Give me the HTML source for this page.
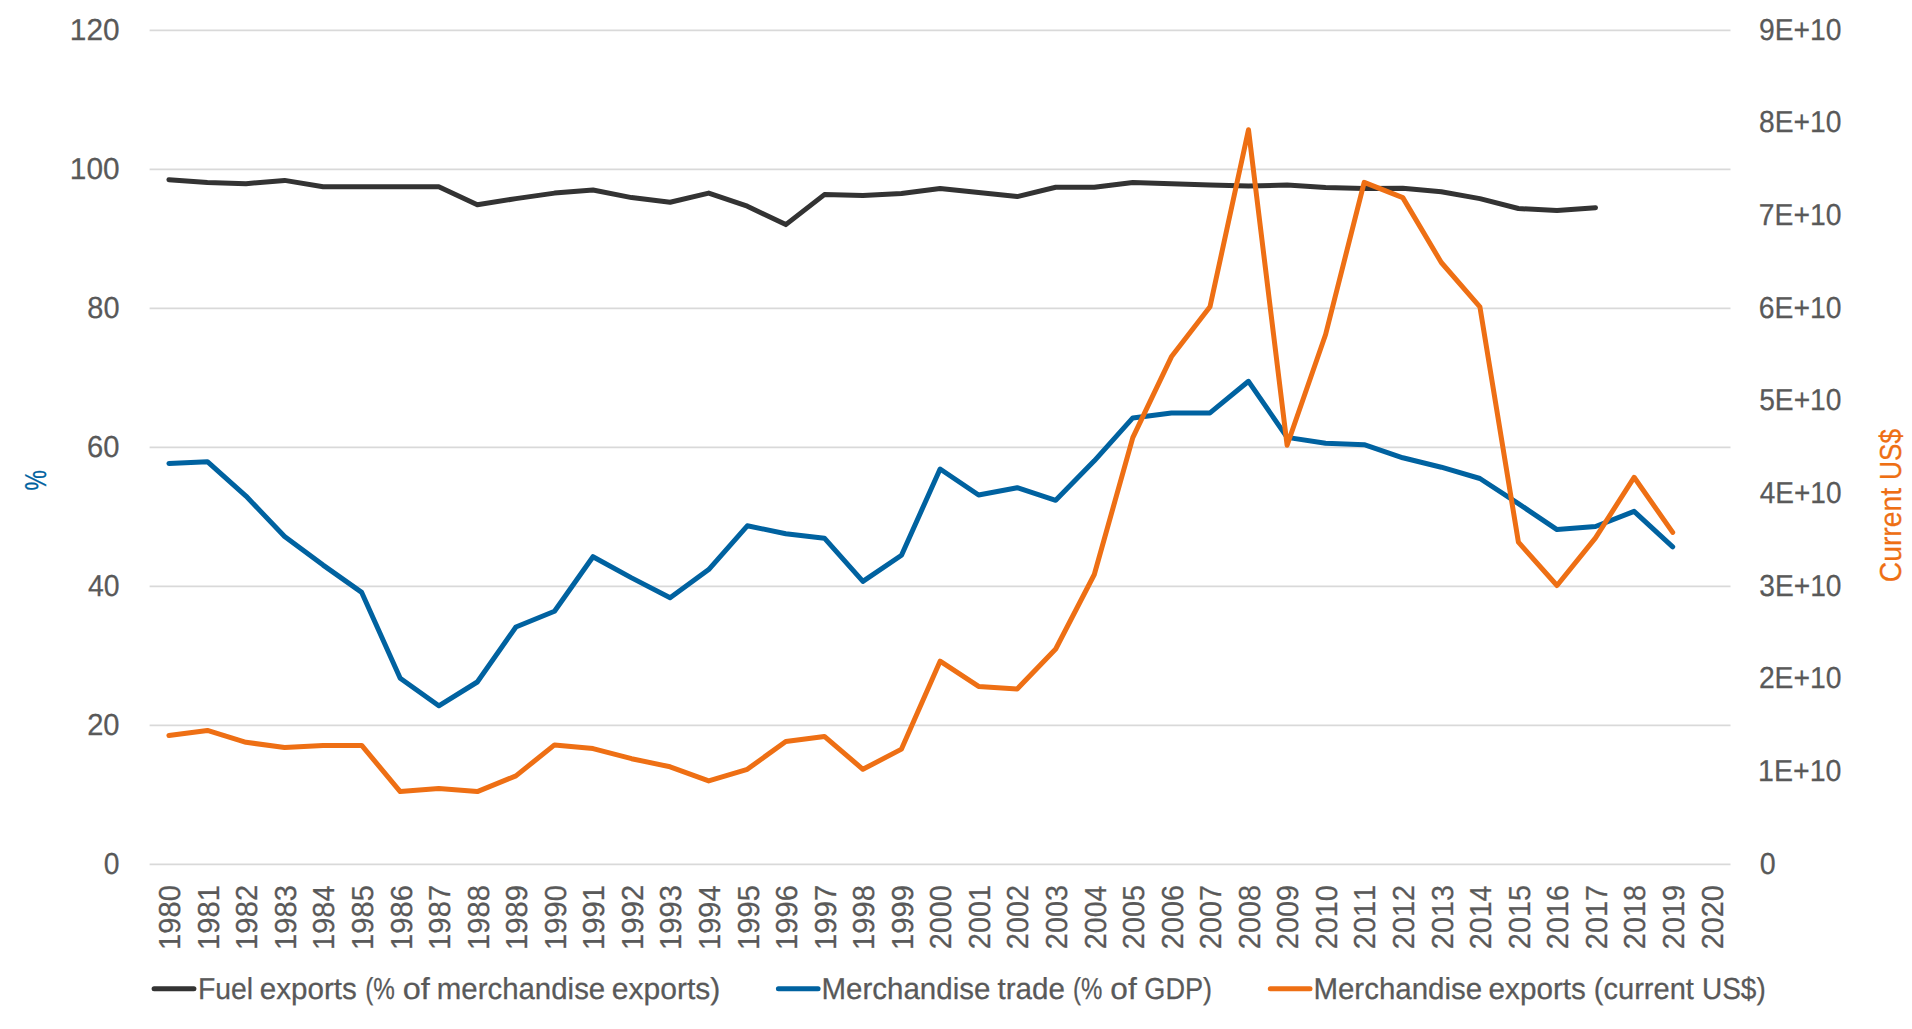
<!DOCTYPE html>
<html lang="en">
<head>
<meta charset="utf-8">
<title>Fuel exports, merchandise trade and merchandise exports, 1980-2020</title>
<style>
html,body{margin:0;padding:0;background:#fff;}
body{width:1912px;height:1029px;overflow:hidden;}
svg{display:block;}
text{font-family:"Liberation Sans",sans-serif;font-size:30.30px;fill:#595959;stroke:#595959;stroke-width:.25px;font-kerning:none;text-rendering:geometricPrecision;}
.ser{fill:none;stroke-width:5.00;stroke-linecap:round;stroke-linejoin:round;}
</style>
</head>
<body>
<svg width="1912" height="1029" viewBox="0 0 1912 1029">
<rect x="0" y="0" width="1912" height="1029" fill="#ffffff"/>

<g stroke="#D9D9D9" stroke-width="1.8" fill="none">
<line x1="149.6" y1="30.45" x2="1730.5" y2="30.45"/>
<line x1="149.6" y1="169.45" x2="1730.5" y2="169.45"/>
<line x1="149.6" y1="308.45" x2="1730.5" y2="308.45"/>
<line x1="149.6" y1="447.45" x2="1730.5" y2="447.45"/>
<line x1="149.6" y1="586.45" x2="1730.5" y2="586.45"/>
<line x1="149.6" y1="725.45" x2="1730.5" y2="725.45"/>
<line x1="149.6" y1="864.45" x2="1730.5" y2="864.45"/>
</g>
<text x="69.83" y="40.00" textLength="49.74" lengthAdjust="spacingAndGlyphs">120</text>
<text x="69.83" y="179.00" textLength="49.74" lengthAdjust="spacingAndGlyphs">100</text>
<text x="87.34" y="318.00" textLength="32.19" lengthAdjust="spacingAndGlyphs">80</text>
<text x="87.12" y="457.00" textLength="32.42" lengthAdjust="spacingAndGlyphs">60</text>
<text x="87.95" y="596.00" textLength="31.56" lengthAdjust="spacingAndGlyphs">40</text>
<text x="87.13" y="735.00" textLength="32.40" lengthAdjust="spacingAndGlyphs">20</text>
<text x="103.80" y="874.00" textLength="15.71" lengthAdjust="spacingAndGlyphs">0</text>
<text x="1758.97" y="40.00" textLength="82.53" lengthAdjust="spacingAndGlyphs">9E+10</text>
<text x="1759.07" y="132.00" textLength="82.43" lengthAdjust="spacingAndGlyphs">8E+10</text>
<text x="1758.85" y="225.00" textLength="82.66" lengthAdjust="spacingAndGlyphs">7E+10</text>
<text x="1758.86" y="318.00" textLength="82.64" lengthAdjust="spacingAndGlyphs">6E+10</text>
<text x="1759.17" y="410.00" textLength="82.33" lengthAdjust="spacingAndGlyphs">5E+10</text>
<text x="1759.66" y="503.00" textLength="81.84" lengthAdjust="spacingAndGlyphs">4E+10</text>
<text x="1759.23" y="596.00" textLength="82.27" lengthAdjust="spacingAndGlyphs">3E+10</text>
<text x="1758.88" y="688.00" textLength="82.63" lengthAdjust="spacingAndGlyphs">2E+10</text>
<text x="1758.12" y="781.00" textLength="83.39" lengthAdjust="spacingAndGlyphs">1E+10</text>
<text x="1759.78" y="874.00" textLength="15.94" lengthAdjust="spacingAndGlyphs">0</text>
<text transform="translate(180.18,947.70) rotate(-90)" x="-2.22" y="0" textLength="64.75" lengthAdjust="spacingAndGlyphs">1980</text>
<text transform="translate(218.74,947.70) rotate(-90)" x="-2.23" y="0" textLength="65.06" lengthAdjust="spacingAndGlyphs">1981</text>
<text transform="translate(257.30,947.70) rotate(-90)" x="-2.23" y="0" textLength="65.10" lengthAdjust="spacingAndGlyphs">1982</text>
<text transform="translate(295.85,947.70) rotate(-90)" x="-2.22" y="0" textLength="64.90" lengthAdjust="spacingAndGlyphs">1983</text>
<text transform="translate(334.41,947.70) rotate(-90)" x="-2.21" y="0" textLength="64.46" lengthAdjust="spacingAndGlyphs">1984</text>
<text transform="translate(372.97,947.70) rotate(-90)" x="-2.22" y="0" textLength="64.84" lengthAdjust="spacingAndGlyphs">1985</text>
<text transform="translate(411.53,947.70) rotate(-90)" x="-2.22" y="0" textLength="64.90" lengthAdjust="spacingAndGlyphs">1986</text>
<text transform="translate(450.09,947.70) rotate(-90)" x="-2.23" y="0" textLength="65.10" lengthAdjust="spacingAndGlyphs">1987</text>
<text transform="translate(488.65,947.70) rotate(-90)" x="-2.22" y="0" textLength="64.89" lengthAdjust="spacingAndGlyphs">1988</text>
<text transform="translate(527.21,947.70) rotate(-90)" x="-2.23" y="0" textLength="65.01" lengthAdjust="spacingAndGlyphs">1989</text>
<text transform="translate(565.76,947.70) rotate(-90)" x="-2.22" y="0" textLength="64.75" lengthAdjust="spacingAndGlyphs">1990</text>
<text transform="translate(604.32,947.70) rotate(-90)" x="-2.23" y="0" textLength="65.06" lengthAdjust="spacingAndGlyphs">1991</text>
<text transform="translate(642.88,947.70) rotate(-90)" x="-2.23" y="0" textLength="65.10" lengthAdjust="spacingAndGlyphs">1992</text>
<text transform="translate(681.44,947.70) rotate(-90)" x="-2.22" y="0" textLength="64.90" lengthAdjust="spacingAndGlyphs">1993</text>
<text transform="translate(720.00,947.70) rotate(-90)" x="-2.21" y="0" textLength="64.46" lengthAdjust="spacingAndGlyphs">1994</text>
<text transform="translate(758.56,947.70) rotate(-90)" x="-2.22" y="0" textLength="64.84" lengthAdjust="spacingAndGlyphs">1995</text>
<text transform="translate(797.12,947.70) rotate(-90)" x="-2.22" y="0" textLength="64.90" lengthAdjust="spacingAndGlyphs">1996</text>
<text transform="translate(835.67,947.70) rotate(-90)" x="-2.23" y="0" textLength="65.10" lengthAdjust="spacingAndGlyphs">1997</text>
<text transform="translate(874.23,947.70) rotate(-90)" x="-2.22" y="0" textLength="64.89" lengthAdjust="spacingAndGlyphs">1998</text>
<text transform="translate(912.79,947.70) rotate(-90)" x="-2.23" y="0" textLength="65.01" lengthAdjust="spacingAndGlyphs">1999</text>
<text transform="translate(951.35,947.70) rotate(-90)" x="-1.45" y="0" textLength="63.97" lengthAdjust="spacingAndGlyphs">2000</text>
<text transform="translate(989.91,947.70) rotate(-90)" x="-1.45" y="0" textLength="64.26" lengthAdjust="spacingAndGlyphs">2001</text>
<text transform="translate(1028.47,947.70) rotate(-90)" x="-1.45" y="0" textLength="64.31" lengthAdjust="spacingAndGlyphs">2002</text>
<text transform="translate(1067.03,947.70) rotate(-90)" x="-1.45" y="0" textLength="64.12" lengthAdjust="spacingAndGlyphs">2003</text>
<text transform="translate(1105.58,947.70) rotate(-90)" x="-1.44" y="0" textLength="63.68" lengthAdjust="spacingAndGlyphs">2004</text>
<text transform="translate(1144.14,947.70) rotate(-90)" x="-1.45" y="0" textLength="64.06" lengthAdjust="spacingAndGlyphs">2005</text>
<text transform="translate(1182.70,947.70) rotate(-90)" x="-1.45" y="0" textLength="64.12" lengthAdjust="spacingAndGlyphs">2006</text>
<text transform="translate(1221.26,947.70) rotate(-90)" x="-1.45" y="0" textLength="64.31" lengthAdjust="spacingAndGlyphs">2007</text>
<text transform="translate(1259.82,947.70) rotate(-90)" x="-1.45" y="0" textLength="64.10" lengthAdjust="spacingAndGlyphs">2008</text>
<text transform="translate(1298.38,947.70) rotate(-90)" x="-1.45" y="0" textLength="64.22" lengthAdjust="spacingAndGlyphs">2009</text>
<text transform="translate(1336.94,947.70) rotate(-90)" x="-1.45" y="0" textLength="63.97" lengthAdjust="spacingAndGlyphs">2010</text>
<text transform="translate(1375.49,947.70) rotate(-90)" x="-1.45" y="0" textLength="64.26" lengthAdjust="spacingAndGlyphs">2011</text>
<text transform="translate(1414.05,947.70) rotate(-90)" x="-1.45" y="0" textLength="64.31" lengthAdjust="spacingAndGlyphs">2012</text>
<text transform="translate(1452.61,947.70) rotate(-90)" x="-1.45" y="0" textLength="64.12" lengthAdjust="spacingAndGlyphs">2013</text>
<text transform="translate(1491.17,947.70) rotate(-90)" x="-1.44" y="0" textLength="63.68" lengthAdjust="spacingAndGlyphs">2014</text>
<text transform="translate(1529.73,947.70) rotate(-90)" x="-1.45" y="0" textLength="64.06" lengthAdjust="spacingAndGlyphs">2015</text>
<text transform="translate(1568.29,947.70) rotate(-90)" x="-1.45" y="0" textLength="64.12" lengthAdjust="spacingAndGlyphs">2016</text>
<text transform="translate(1606.85,947.70) rotate(-90)" x="-1.45" y="0" textLength="64.31" lengthAdjust="spacingAndGlyphs">2017</text>
<text transform="translate(1645.40,947.70) rotate(-90)" x="-1.45" y="0" textLength="64.10" lengthAdjust="spacingAndGlyphs">2018</text>
<text transform="translate(1683.96,947.70) rotate(-90)" x="-1.45" y="0" textLength="64.22" lengthAdjust="spacingAndGlyphs">2019</text>
<text transform="translate(1722.52,947.70) rotate(-90)" x="-1.45" y="0" textLength="63.97" lengthAdjust="spacingAndGlyphs">2020</text>
<text transform="translate(45.60,489.60) rotate(-90)" x="-0.82" y="0" textLength="20.44" lengthAdjust="spacingAndGlyphs" style="fill:#0062A0;stroke:#0062A0">%</text>
<text transform="translate(1901.20,0) rotate(-90)" y="0" style="fill:#EE6F14;stroke:#EE6F14"><tspan x="-582.34" textLength="94.45" lengthAdjust="spacingAndGlyphs">Current</tspan> <tspan x="-479.92" textLength="50.94" lengthAdjust="spacingAndGlyphs">US$</tspan></text>
<polyline class="ser" stroke="#333333" points="168.9,179.7 207.4,182.4 246.0,183.7 284.6,180.4 323.1,186.7 361.7,186.7 400.2,186.7 438.8,186.7 477.3,204.7 515.9,198.6 554.5,193.1 593.0,190.0 631.6,197.6 670.1,202.2 708.7,193.1 747.3,206.2 785.8,224.6 824.4,194.6 862.9,195.6 901.5,193.6 940.1,188.5 978.6,192.6 1017.2,196.6 1055.7,187.2 1094.3,187.2 1132.8,182.4 1171.4,183.7 1210.0,185.0 1248.5,186.0 1287.1,185.0 1325.6,187.5 1364.2,188.5 1402.8,188.3 1441.3,191.8 1479.9,198.6 1518.4,208.5 1557.0,210.5 1595.5,207.7"/>
<polyline class="ser" stroke="#0062A0" points="168.9,463.5 207.4,461.7 246.0,496.1 284.6,536.5 323.1,565.1 361.7,592.4 400.2,678.3 438.8,705.8 477.3,682.0 515.9,627.0 554.5,611.3 593.0,556.7 631.6,577.9 670.1,597.7 708.7,569.6 747.3,525.8 785.8,533.7 824.4,538.2 862.9,581.4 901.5,555.2 940.1,469.0 978.6,495.0 1017.2,487.7 1055.7,500.3 1094.3,460.8 1132.8,417.9 1171.4,412.9 1210.0,412.9 1248.5,381.3 1287.1,437.4 1325.6,443.2 1364.2,444.7 1402.8,457.8 1441.3,467.2 1479.9,478.5 1518.4,503.6 1557.0,529.6 1595.5,526.5 1634.1,511.4 1672.7,546.8"/>
<polyline class="ser" stroke="#EE6F14" points="168.9,735.5 207.4,730.4 246.0,742.3 284.6,747.4 323.1,745.4 361.7,745.4 400.2,791.6 438.8,788.6 477.3,791.6 515.9,775.9 554.5,744.9 593.0,748.6 631.6,758.7 670.1,766.8 708.7,780.9 747.3,769.3 785.8,741.5 824.4,736.4 862.9,769.3 901.5,749.1 940.1,661.2 978.6,686.4 1017.2,688.9 1055.7,649.0 1094.3,574.5 1132.8,437.6 1171.4,356.8 1210.0,306.8 1248.5,129.8 1287.1,445.2 1325.6,334.5 1364.2,182.4 1402.8,197.6 1441.3,262.5 1479.9,306.8 1518.4,542.2 1557.0,585.5 1595.5,537.9 1634.1,477.3 1672.7,532.4"/>
<line class="ser" stroke="#333333" x1="154.1" y1="988.8" x2="193.9" y2="988.8"/>
<text y="998.70"><tspan x="197.88" textLength="55.12" lengthAdjust="spacingAndGlyphs">Fuel</tspan> <tspan x="259.74" textLength="97.03" lengthAdjust="spacingAndGlyphs">exports</tspan> <tspan x="365.19" textLength="29.67" lengthAdjust="spacingAndGlyphs">(%</tspan> <tspan x="402.73" textLength="27.12" lengthAdjust="spacingAndGlyphs">of</tspan> <tspan x="436.75" textLength="168.46" lengthAdjust="spacingAndGlyphs">merchandise</tspan> <tspan x="611.72" textLength="108.64" lengthAdjust="spacingAndGlyphs">exports)</tspan></text>
<line class="ser" stroke="#0062A0" x1="778.4" y1="988.8" x2="818.1" y2="988.8"/>
<text y="998.70"><tspan x="821.48" textLength="168.93" lengthAdjust="spacingAndGlyphs">Merchandise</tspan> <tspan x="997.45" textLength="67.46" lengthAdjust="spacingAndGlyphs">trade</tspan> <tspan x="1073.11" textLength="29.34" lengthAdjust="spacingAndGlyphs">(%</tspan> <tspan x="1110.37" textLength="26.38" lengthAdjust="spacingAndGlyphs">of</tspan> <tspan x="1144.34" textLength="67.74" lengthAdjust="spacingAndGlyphs">GDP)</tspan></text>
<line class="ser" stroke="#EE6F14" x1="1270.3" y1="988.8" x2="1310.0" y2="988.8"/>
<text y="998.70"><tspan x="1313.38" textLength="168.83" lengthAdjust="spacingAndGlyphs">Merchandise</tspan> <tspan x="1488.54" textLength="97.33" lengthAdjust="spacingAndGlyphs">exports</tspan> <tspan x="1593.80" textLength="100.11" lengthAdjust="spacingAndGlyphs">(current</tspan> <tspan x="1701.94" textLength="63.80" lengthAdjust="spacingAndGlyphs">US$)</tspan></text>
</svg>
</body>
</html>
